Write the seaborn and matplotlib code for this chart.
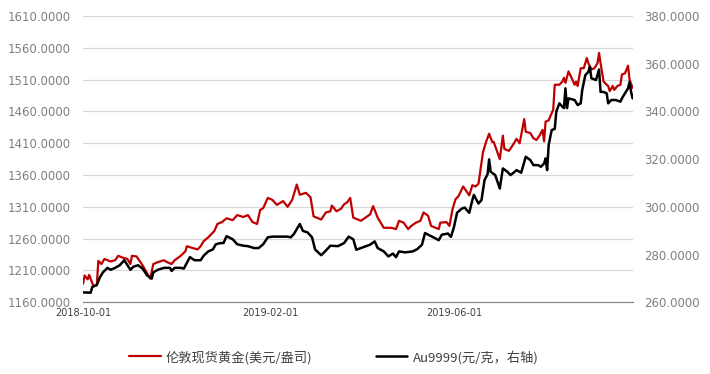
import pandas as pd
import matplotlib.pyplot as plt
import matplotlib.dates as mdates
import seaborn as sns

# Setup
sns.set_theme(style="white")
plt.rcParams["font.family"] = ["DejaVu Sans", "Noto Sans CJK SC"]

start = pd.Timestamp("2018-10-01")

# London spot gold (USD/oz), left axis -- days since 2018-10-01
usd_days = [0, 1, 3, 4, 6, 7, 9, 10, 12, 14, 18, 21, 23, 26, 29, 31, 32, 35, 37, 39,
            42, 44, 46, 49, 53, 55, 58, 60, 64, 67, 68, 72, 75, 77, 79, 82, 86, 88, 91, 94,
            98, 101, 105, 108, 111, 114, 116, 118, 121, 124, 127, 131, 134, 137, 140, 142, 146, 149, 151, 156,
            159, 162, 163, 166, 169, 171, 173, 175, 177, 182, 185, 188, 190, 193, 197, 202, 205, 207, 210, 213,
            215, 218, 221, 223, 226, 228, 231, 233, 234, 238, 240, 242, 244, 246, 249, 251, 253, 255, 257, 259,
            262, 264, 266, 268, 269, 273, 275, 276, 279, 282, 284, 286, 289, 290, 293, 295, 297, 299, 301, 302,
            303, 305, 308, 309, 312, 314, 315, 316, 318, 320, 322, 323, 324, 326, 328, 330, 331, 333, 335, 337,
            338, 339, 341, 343, 344, 345, 347, 348, 350, 352, 353, 355, 357, 358, 360]
usd_vals = [1189, 1202, 1196, 1203, 1190, 1185, 1187, 1225, 1220, 1228, 1224, 1226, 1233, 1230, 1228, 1220, 1233, 1232, 1225, 1218,
            1205, 1197, 1220, 1223, 1226, 1223, 1220, 1226, 1233, 1240, 1248, 1245, 1243, 1248, 1256, 1262, 1272, 1283, 1286, 1292,
            1289, 1297, 1294, 1297, 1286, 1283, 1305, 1308, 1324, 1321, 1313, 1319, 1310, 1321, 1345, 1329, 1332, 1325, 1295, 1290,
            1301, 1303, 1312, 1303, 1307, 1314, 1317, 1324, 1293, 1288, 1293, 1298, 1311, 1293, 1277, 1277, 1275, 1288, 1285, 1275,
            1280, 1285, 1288, 1301, 1296, 1280, 1277, 1275, 1285, 1286, 1280, 1306, 1322, 1327, 1342, 1335, 1328, 1344, 1342, 1346,
            1396, 1412, 1425, 1412, 1412, 1385, 1422, 1401, 1398, 1409, 1417, 1410, 1448, 1428, 1426, 1418, 1415, 1422, 1431, 1413,
            1444, 1446, 1463, 1502, 1502, 1507, 1513, 1505, 1523, 1513, 1502, 1507, 1500, 1528, 1528, 1544, 1536, 1526, 1528, 1536,
            1552, 1536, 1507, 1502, 1500, 1492, 1500, 1494, 1500, 1502, 1518, 1520, 1532, 1510, 1497]

# Au9999 (CNY/g), right axis
au_days = [0, 5, 6, 9, 11, 13, 16, 18, 21, 24, 27, 31, 33, 36, 39, 42, 45, 46, 49, 53,
           56, 57, 58, 60, 64, 66, 70, 73, 77, 79, 82, 85, 87, 90, 92, 94, 98, 101, 105, 108,
           112, 115, 118, 121, 124, 129, 134, 136, 138, 142, 144, 147, 150, 152, 156, 159, 162, 167, 171, 174,
           177, 179, 182, 185, 188, 191, 193, 197, 200, 203, 205, 207, 211, 216, 219, 222, 224, 228, 231, 233,
           235, 239, 241, 243, 245, 248, 250, 251, 253, 255, 256, 259, 261, 263, 265, 266, 267, 270, 273, 275,
           278, 280, 282, 284, 287, 290, 293, 295, 298, 300, 302, 303, 304, 305, 307, 309, 310, 312, 314, 315,
           316, 317, 318, 322, 324, 326, 327, 329, 331, 332, 333, 336, 338, 339, 341, 343, 344, 346, 349, 352,
           353, 355, 357, 358, 359, 360]
au_vals = [264.1, 264.0, 266.4, 267.2, 270.4, 272.5, 274.4, 273.6, 274.4, 275.5, 277.6, 273.6, 274.9, 275.5, 274.1, 271.2, 269.9, 272.5, 273.6, 274.4,
           274.4, 274.4, 273.1, 274.4, 274.4, 274.1, 278.9, 277.6, 277.6, 279.5, 281.3, 282.1, 284.3, 284.8, 284.8, 287.7, 286.4, 284.3, 283.7, 283.5,
           282.7, 282.7, 284.3, 287.2, 287.5, 287.5, 287.5, 287.2, 288.5, 292.8, 289.9, 289.3, 287.2, 282.1, 279.7, 281.6, 283.7, 283.5, 284.8, 287.5,
           286.4, 282.0, 282.7, 283.4, 284.1, 285.5, 282.7, 281.3, 279.2, 280.4, 278.9, 281.3, 280.9, 281.3, 282.3, 284.1, 289.0, 287.7, 286.7, 286.0,
           288.3, 288.8, 287.4, 291.6, 297.5, 299.2, 299.7, 298.9, 297.5, 302.8, 305.0, 301.4, 302.8, 311.2, 313.7, 319.9, 314.7, 313.3, 307.7, 316.1,
           314.7, 313.3, 314.3, 315.4, 314.3, 321.0, 319.6, 317.5, 317.5, 316.8, 318.2, 320.3, 315.4, 325.9, 332.2, 332.7, 339.9, 343.4, 342.0, 341.4,
           349.7, 341.4, 345.5, 344.8, 342.7, 343.4, 349.0, 355.2, 356.6, 358.7, 353.9, 353.2, 357.6, 348.2, 348.2, 347.6, 343.4, 344.8, 344.8, 344.1,
           345.5, 347.6, 349.7, 352.4, 348.2, 345.5]

left_ticks = [1160, 1210, 1260, 1310, 1360, 1410, 1460, 1510, 1560, 1610]
right_ticks = [260, 280, 300, 320, 340, 360, 380]
date_ticks = ["2018-10-01", "2019-02-01", "2019-06-01"]

usd = pd.DataFrame({"date": start + pd.to_timedelta(usd_days, unit="D"), "val": usd_vals})
au = pd.DataFrame({"date": start + pd.to_timedelta(au_days, unit="D"), "val": au_vals})

fig = plt.figure(figsize=(7.1, 3.74), dpi=100)
ax = fig.add_axes([0.117, 0.192, 0.774, 0.765])
ax2 = ax.twinx()

sns.lineplot(data=usd, x="date", y="val", ax=ax, color="#c00000", linewidth=1.6,
             label="伦敦现货黄金(美元/盎司)", legend=False)
sns.lineplot(data=au, x="date", y="val", ax=ax2, color="black", linewidth=1.8,
             label="Au9999(元/克，右轴)", legend=False)

ax.set_ylim(1160, 1610)
ax.set_yticks(left_ticks)
ax.set_yticklabels([f"{v:.4f}" for v in left_ticks])
ax2.set_ylim(260, 380)
ax2.set_yticks(right_ticks)
ax2.set_yticklabels([f"{v:.4f}" for v in right_ticks])

ax.set_xlim(usd["date"].iloc[0], usd["date"].iloc[-1])
ax.set_xticks(pd.to_datetime(date_ticks))
ax.xaxis.set_major_formatter(mdates.DateFormatter("%Y-%m-%d"))

ax.grid(axis="y", color="#d9d9d9", linewidth=0.9)
ax.set_axisbelow(True)
for a in (ax, ax2):
    a.set_xlabel("")
    a.set_ylabel("")
    for s in ("left", "right", "top", "bottom"):
        a.spines[s].set_visible(False)
ax.spines["bottom"].set_visible(True)
ax.spines["bottom"].set_color("#898989")
ax.spines["bottom"].set_linewidth(0.9)

ax.tick_params(axis="y", length=0, pad=9, labelsize=8.5, labelcolor="#7f7f86")
ax2.tick_params(axis="y", length=0, pad=8, labelsize=8.5, labelcolor="#7f7f86")
ax.tick_params(axis="x", length=0, pad=4, labelsize=7, labelcolor="#404040")

handles = ax.get_lines()[:1] + ax2.get_lines()[:1]
fig.legend(handles, [h.get_label() for h in handles], loc="center", bbox_to_anchor=(0.47, 0.045),
           ncol=2, frameon=False, handlelength=2.4, handletextpad=0.4,
           columnspacing=4.8, labelcolor="#404040",
           prop={"family": ["Noto Sans CJK SC", "DejaVu Sans"], "size": 9.5})

fig.savefig("out.png", dpi=100)
